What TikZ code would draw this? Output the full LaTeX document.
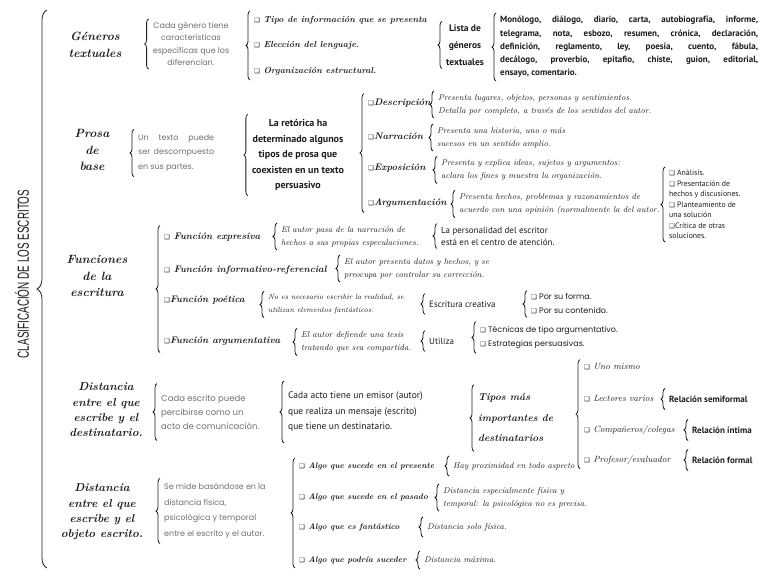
\documentclass[tikz,border=0pt]{standalone}
\usepackage{fontspec}
\usepackage{tikz}
\usetikzlibrary{decorations.pathreplacing}
\newfontfamily\cmcfont{PT Sans}
\newfontfamily\grayfont{Poppins}
\newfontfamily\symfont{DejaVu Sans}
\newfontfamily\titlefont{Liberation Sans}
\definecolor{mapInk}{HTML}{1C1C1C}
\definecolor{mapGray}{HTML}{707070}
\newcommand\bx{{\symfont\fontsize{6.5}{6.5}\selectfont ❑}}
\newcommand\grp[3][2]{\draw[brc] ([xshift=-3pt,yshift=-#1pt]#3.south west) -- ([xshift=-3pt,yshift=#1pt]#2.north west);}

\begin{document}
\begin{tikzpicture}[x=1pt,y=-1pt,text=mapInk,
  hdr/.style={font=\bfseries\itshape\fontsize{12}{16.5}\selectfont,align=center,inner sep=1pt},
  gry/.style={font=\grayfont\fontsize{8}{12.5}\selectfont,text=mapGray,inner sep=1pt},
  itm/.style={font=\bfseries\itshape\fontsize{9.5}{11}\selectfont,anchor=west,inner sep=1pt},
  hnd/.style={font=\itshape\fontsize{8.5}{13}\selectfont,anchor=west,align=left,inner sep=1pt},
  cmc/.style={font=\cmcfont\fontsize{9}{12}\selectfont,anchor=west,align=left,inner sep=1pt},
  brc/.style={decorate,decoration={brace,amplitude=4pt},line width=0.8pt,draw=mapInk}]
\useasboundingbox (0,0) rectangle (768,576);

\node[rotate=90,font=\titlefont\fontsize{16}{16}\selectfont] (ttl) at (22,274) {\scalebox{0.62}[1]{CLASIFICACIÓN DE LOS ESCRITOS}};
\coordinate (mtop) at (47,10);
\coordinate (mbot) at (47,568);
\draw[brc,decoration={brace,amplitude=10pt}] (mbot) -- (mtop);

% generos textuales
\node[hdr] (h1) at (95,45) {Géneros\\textuales};
\node[gry,align=center] (d1) at (191,44) {Cada género tiene\\características\\específicas que los\\diferencian.};
\node[itm,font=\bfseries\itshape\fontsize{8.8}{11}\selectfont] (a1) at (253,20) {\bx\ Tipo de información que se presenta};
\node[itm,font=\bfseries\itshape\fontsize{8.8}{11}\selectfont] (a2) at (253,45) {\bx\ Elección del lenguaje.};
\node[itm,font=\bfseries\itshape\fontsize{8.8}{11}\selectfont] (a3) at (253,71) {\bx\ Organización estructural.};
\node[cmc,font=\cmcfont\bfseries\fontsize{9.5}{17}\selectfont,align=center,anchor=center] (l1) at (465,45) {Lista de\\géneros\\textuales};
\node[cmc,font=\cmcfont\bfseries\fontsize{9}{13.3}\selectfont,text width=258pt,align=justify] (l2) at (499,47) {Monólogo, diálogo, diario, carta, autobiografía, informe,\linebreak telegrama, nota, esbozo, resumen, crónica, declaración,\linebreak definición, reglamento, ley, poesía, cuento, fábula,\linebreak decálogo, proverbio, epitafio, chiste, guion, editorial,\linebreak ensayo, comentario.};
\grp{d1}{d1}
\grp[4]{a1}{a3}
\grp{l1}{l1}
\grp{l2}{l2}

% prosa de base
\node[hdr] (h2) at (92,150) {Prosa\\de\\base};
\node[gry,anchor=west,text width=76pt,align=justify,font=\grayfont\fontsize{8}{14.5}\selectfont] (d2) at (137,153) {Un texto puede\linebreak ser descompuesto\linebreak en sus partes.};
\node[cmc,font=\cmcfont\bfseries\fontsize{10}{15.5}\selectfont,align=center,anchor=center] (r2) at (298,155) {La retórica ha\\determinado algunos\\tipos de prosa que\\coexisten en un texto\\persuasivo};
\node[itm] (p1) at (367,103) {\bx Descripción};
\node[itm] (p2) at (367,136) {\bx Narración};
\node[itm] (p3) at (367,168) {\bx Exposición};
\node[itm] (p4) at (367,203) {\bx Argumentación};
\node[hnd] (q1) at (437,104.5) {Presenta lugares, objetos, personas y sentimientos.\\Detalla por completo, a través de los sentidos del autor.};
\node[hnd] (q2) at (436,137.5) {Presenta una historia, uno o más\\sucesos en un sentido amplio.};
\node[hnd] (q3) at (440,170) {Presenta y explica ideas, sujetos y argumentos:\\aclara los fines y muestra la organización.};
\node[hnd] (q4) at (458,204) {Presenta hechos, problemas y razonamientos de\\acuerdo con una opinión (normalmente la del autor.};
\node[cmc,font=\cmcfont\fontsize{7.8}{10.5}\selectfont] (s1) at (668,204.5) {\bx\ Análisis.\\\bx\ Presentación de\\hechos y discusiones.\\\bx\ Planteamiento de\\una solución\\\bx Crítica de otras\\soluciones.};
\grp[4]{d2}{d2}
\grp[4]{r2}{r2}
\grp[4]{p1}{p4}
\grp{q1}{q1}
\grp{q2}{q2}
\grp{q3}{q3}
\grp{q4}{q4}
\grp{s1}{s1}

% funciones de la escritura
\node[hdr] (h3) at (97,276) {Funciones\\de la\\escritura};
\node[itm] (f1) at (163,237) {\bx\ Función expresiva};
\node[itm] (f2) at (163,270) {\bx\ Función informativo-referencial};
\node[itm] (f3) at (163,300) {\bx Función poética};
\node[itm] (f4) at (163,341) {\bx Función argumentativa};
\node[hnd] (e1) at (280,236.5) {El autor pasa de la narración de\\hechos a sus propias especulaciones.};
\node[cmc] (e1b) at (440,236) {La personalidad del escritor\\está en el centro de atención.};
\node[hnd] (e2) at (343,268.5) {El autor presenta datos y hechos, y se\\preocupa por controlar su corrección.};
\node[hnd,font=\itshape\fontsize{7.5}{13}\selectfont] (e3) at (267,304.5) {No es necesario escribir la realidad, se\\utilizan elementos fantásticos.};
\node[cmc] (e3b) at (428,304) {Escritura creativa};
\node[cmc,font=\grayfont\fontsize{8}{10}\selectfont] (c1) at (530,297) {\bx\ Por su forma.};
\node[cmc,font=\grayfont\fontsize{8}{10}\selectfont] (c2) at (530,311) {\bx\ Por su contenido.};
\node[hnd] (e4) at (300,342) {El autor defiende una tesis\\tratando que sea compartida.};
\node[cmc] (e4b) at (428,341) {Utiliza};
\node[cmc,font=\grayfont\fontsize{8}{10}\selectfont] (c3) at (479,330) {\bx\ Técnicas de tipo argumentativo.};
\node[cmc,font=\grayfont\fontsize{8}{10}\selectfont] (c4) at (479,345) {\bx\ Estrategias persuasivas.};
\grp[6]{f1}{f4}
\grp{e1}{e1}
\grp{e1b}{e1b}
\grp{e2}{e2}
\grp{e3}{e3}
\grp[6]{e3b}{e3b}
\grp{c1}{c2}
\grp{e4}{e4}
\grp[6]{e4b}{e4b}
\grp[3]{c3}{c4}

% distancia al destinatario
\node[hdr,font=\bfseries\itshape\fontsize{11.5}{15.3}\selectfont] (h4) at (106,410) {Distancia\\entre el que\\escribe y el\\destinatario.};
\node[gry,anchor=west,align=left,font=\grayfont\fontsize{8.5}{14}\selectfont] (d4) at (160,412) {Cada escrito puede\\percibirse como un\\acto de comunicación.};
\node[cmc,font=\cmcfont\fontsize{9.5}{15.5}\selectfont] (k4) at (287,412) {Cada acto tiene un emisor (autor)\\que realiza un mensaje (escrito)\\que tiene un destinatario.};
\node[hnd,font=\bfseries\itshape\fontsize{10}{20.5}\selectfont] (t4) at (477,418) {Tipos más\\importantes de\\destinatarios};
\node[hnd,font=\itshape\fontsize{9}{11}\selectfont] (u1) at (583,367) {\bx\ Uno mismo};
\node[hnd,font=\itshape\fontsize{9}{11}\selectfont] (u2) at (583,399) {\bx\ Lectores varios};
\node[hnd,font=\itshape\fontsize{9}{11}\selectfont] (u3) at (583,430) {\bx\ Compañeros/colegas};
\node[hnd,font=\itshape\fontsize{9}{11}\selectfont] (u4) at (583,460) {\bx\ Profesor/evaluador};
\node[cmc,font=\cmcfont\bfseries\fontsize{9}{12}\selectfont] (v2) at (668,399) {Relación semiformal};
\node[cmc,font=\cmcfont\bfseries\fontsize{9}{12}\selectfont] (v3) at (691,430) {Relación íntima};
\node[cmc,font=\cmcfont\bfseries\fontsize{9}{12}\selectfont] (v4) at (691,460) {Relación formal};
\grp[10]{d4}{d4}
\grp[10]{k4}{k4}
\grp[8]{t4}{t4}
\grp[3]{u1}{u4}
\grp[6]{v2}{v2}
\grp[6]{v3}{v3}
\grp[6]{v4}{v4}

% distancia al objeto escrito
\node[hdr,font=\bfseries\itshape\fontsize{11.5}{15.3}\selectfont] (h5) at (102,512) {Distancia\\entre el que\\escribe y el\\objeto escrito.};
\node[gry,anchor=west,align=left,font=\grayfont\fontsize{8}{15.5}\selectfont] (d5) at (163,511) {Se mide basándose en la\\distancia física,\\psicológica y temporal\\entre el escrito y el autor.};
\node[itm,font=\bfseries\itshape\fontsize{8.2}{11}\selectfont] (o1) at (298,466) {\bx\ Algo que sucede en el presente};
\node[itm,font=\bfseries\itshape\fontsize{8.2}{11}\selectfont] (o2) at (298,497) {\bx\ Algo que sucede en el pasado};
\node[itm,font=\bfseries\itshape\fontsize{8.2}{11}\selectfont] (o3) at (298,527) {\bx\ Algo que es fantástico};
\node[itm,font=\bfseries\itshape\fontsize{8.2}{11}\selectfont] (o4) at (298,560) {\bx\ Algo que podría suceder};
\node[hnd] (w1) at (452,466) {Hay proximidad en todo aspecto};
\node[hnd] (w2) at (442,497.5) {Distancia especialmente física y\\temporal: la psicológica no es precisa.};
\node[hnd] (w3) at (426,527) {Distancia solo física.};
\node[hnd] (w4) at (423,560) {Distancia máxima.};
\grp[4]{d5}{d5}
\grp[3]{o1}{o4}
\grp[5]{w1}{w1}
\grp{w2}{w2}
\grp[5]{w3}{w3}
\grp[5]{w4}{w4}
\end{tikzpicture}
\end{document}
